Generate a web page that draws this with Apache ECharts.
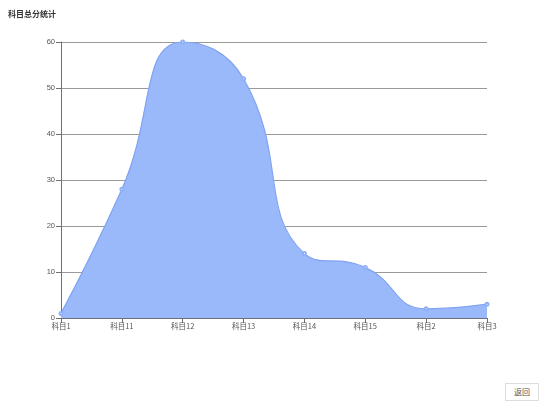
<!DOCTYPE html>
<html><head><meta charset="utf-8">
<script src="https://cdn.jsdelivr.net/npm/echarts@6/dist/echarts.min.js"></script>
<style>
html,body{margin:0;padding:0;background:#fff;width:554px;height:411px;overflow:hidden;}
#c{width:554px;height:411px;position:absolute;left:0;top:0;}
#btn{position:absolute;left:505px;top:383px;width:32px;height:16px;font-size:8px;border:1px solid #ddd;background:#fff;color:#555;text-align:center;line-height:16px;font-family:"Noto Sans CJK SC";}
</style></head>
<body><div id="c"></div><div id="btn">返回</div>
<script>
const categories = ['科目1','科目11','科目12','科目13','科目14','科目15','科目2','科目3'];
const scores = [1, 28, 60, 52, 14, 11, 2, 3];
const yTicks = [0, 10, 20, 30, 40, 50, 60];
const chart = echarts.init(document.getElementById('c'));
chart.setOption({
  animation: false,
  title: { text: '科目总分统计', left: 3, top: 5, textStyle: { fontSize: 8, fontWeight: 'bold', color: '#333', fontFamily: 'Noto Sans CJK SC' } },
  grid: { left: 61, right: 67, top: 42, bottom: 93 },
  xAxis: {
    type: 'category', data: categories, boundaryGap: false,
    axisLine: { lineStyle: { color: '#6E7079' } },
    axisTick: { show: true, alignWithLabel: true },
    axisLabel: { fontSize: 7.5, color: '#555', margin: 4, fontFamily: 'Noto Sans CJK SC' }
  },
  yAxis: {
    type: 'value', min: yTicks[0], max: yTicks[yTicks.length-1], interval: 10,
    axisLine: { show: true, lineStyle: { color: '#6E7079' } },
    axisTick: { show: true },
    axisLabel: { fontSize: 7.5, color: '#555', margin: 6 },
    splitLine: { lineStyle: { color: '#999' } }
  },
  series: [{
    type: 'line', data: scores, smooth: true,
    symbol: 'emptyCircle', symbolSize: 3,
    lineStyle: { color: '#80a3f2', width: 1.2 },
    itemStyle: { color: '#8fb0f6', borderWidth: 1 },
    areaStyle: { color: '#9ab9fa', opacity: 1 }
  }]
});
</script></body></html>
